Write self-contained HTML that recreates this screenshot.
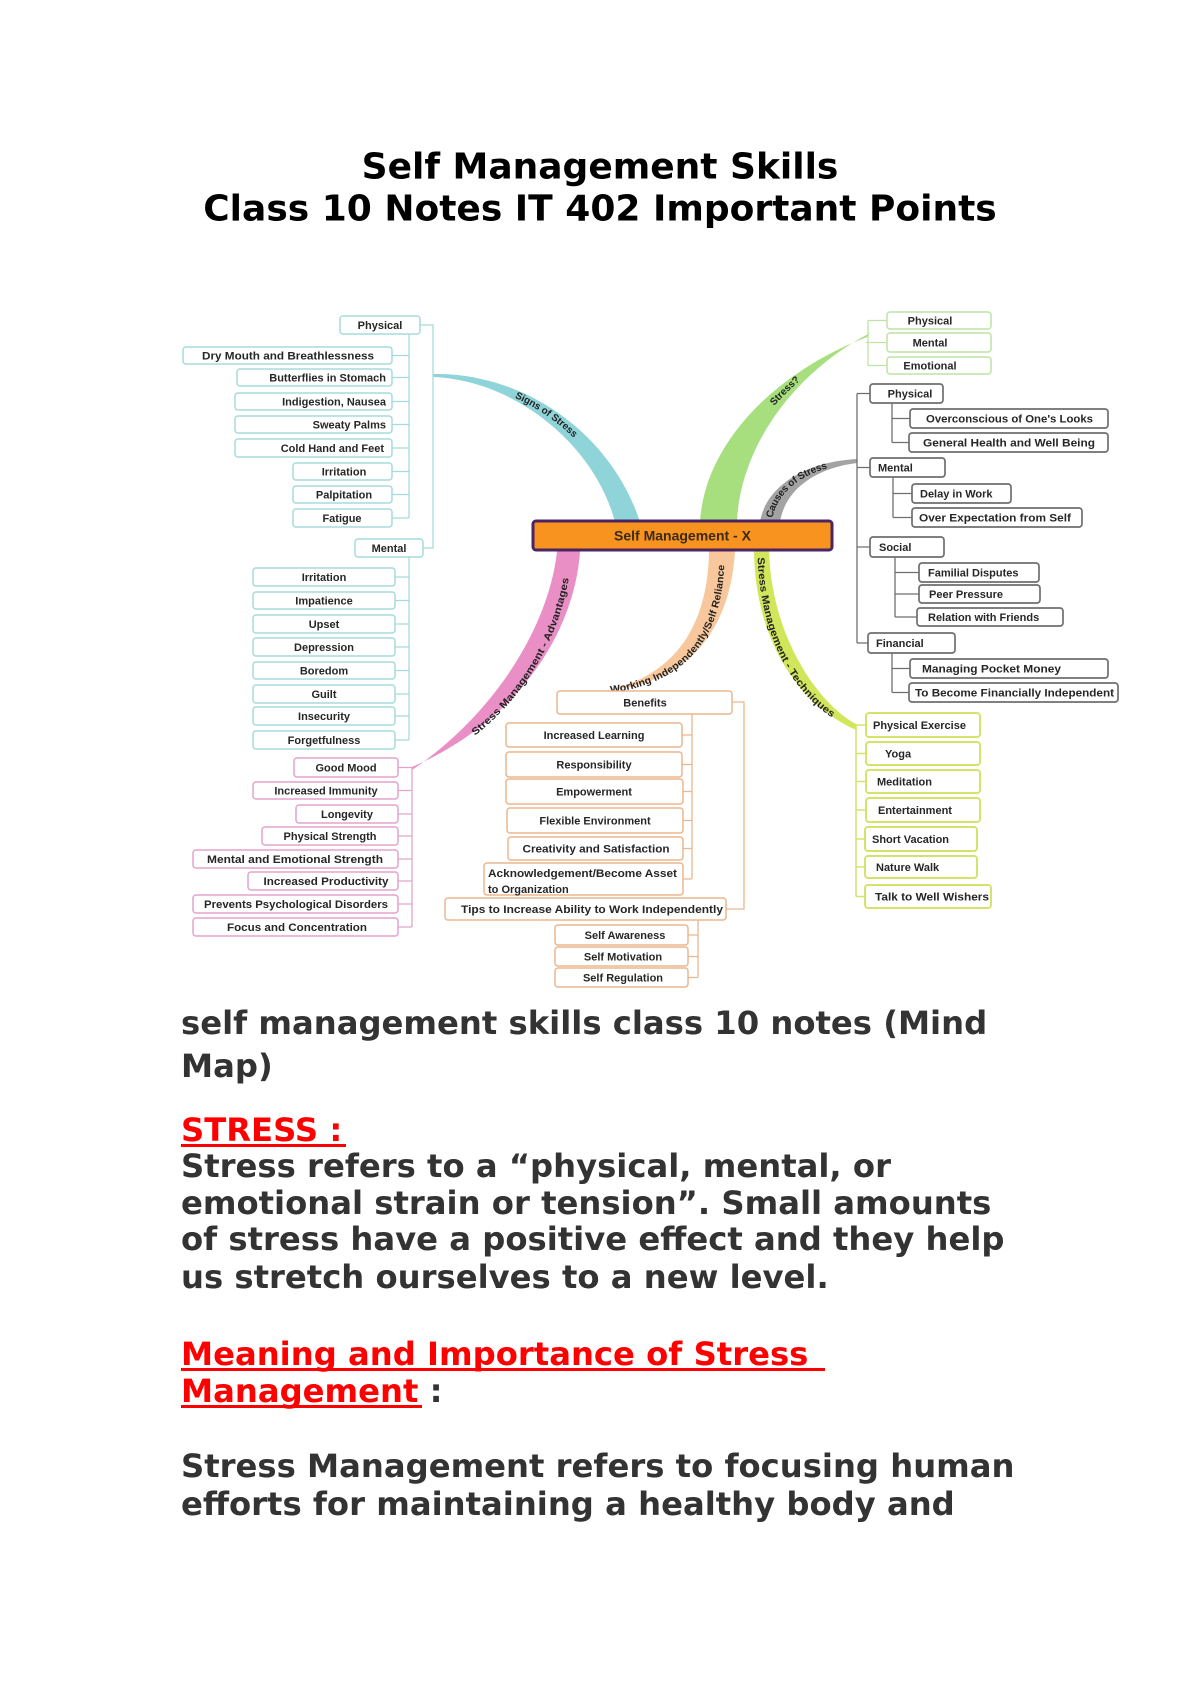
<!DOCTYPE html>
<html>
<head>
<meta charset="utf-8">
<style>
html,body{margin:0;padding:0;background:#fff;}
svg{display:block;}
.t{font-family:"DejaVu Sans","Liberation Sans",sans-serif;font-weight:bold;}
.m{font-family:"Liberation Sans",Arial,sans-serif;font-weight:bold;font-size:11px;fill:#262626;}
.lb{font-family:"Liberation Sans",Arial,sans-serif;font-weight:bold;font-size:10px;fill:#222;}
.c{text-anchor:middle;}
.e{text-anchor:end;}
.bc{fill:#fff;stroke:#a6dbdb;stroke-width:1.5;}
.bp{fill:#fff;stroke:#e3a4cb;stroke-width:1.5;}
.bo{fill:#fff;stroke:#ebb68e;stroke-width:1.5;}
.bg{fill:#fff;stroke:#bfe3a3;stroke-width:1.5;}
.bk{fill:#fff;stroke:#6f6f6f;stroke-width:1.7;}
.by{fill:#fff;stroke:#d5e36d;stroke-width:2;}
.lc{fill:none;stroke:#a6dbdb;stroke-width:1.3;}
.lp{fill:none;stroke:#e3a4cb;stroke-width:1.3;}
.lo{fill:none;stroke:#ebb68e;stroke-width:1.3;}
.lg{fill:none;stroke:#bfe3a3;stroke-width:1.3;}
.lk{fill:none;stroke:#6f6f6f;stroke-width:1.3;}
.ly{fill:none;stroke:#d5e36d;stroke-width:1.6;}
</style>
</head>
<body>
<svg width="1200" height="1696" viewBox="0 0 1200 1696" xmlns="http://www.w3.org/2000/svg">
<defs>
<path id="p1" d="M440,377 C520,378 605,436 628,522"/>
<path id="p2" d="M718,522 C722,445 790,365 867,337"/>
<path id="p3" d="M769,522 C772,490 805,463 857,461"/>
<path id="p4" d="M412,769 C515,725 565,630 568,551"/>
<path id="p5" d="M606,690 C690,680 722,630 721,551"/>
<path id="p6" d="M761,553 C763,635 795,700 856,727"/>
</defs>

<!-- Title -->
<text class="t c" x="600" y="178.5" font-size="36" fill="#000">Self Management Skills</text>
<text class="t c" x="600" y="220.5" font-size="36" fill="#000">Class 10 Notes IT 402 Important Points</text>

<!-- Ribbons -->
<path d="M433,374 C520,372 610,430 640,522 L615,522 C595,445 515,380 433,377 Z" fill="#8fd4d8"/>
<path d="M700,522 C705,440 780,370 867,337 L870,333 C790,375 740,450 737,522 Z" fill="#a7df7e"/>
<path d="M760,522 C765,490 800,462 857,459 L857,463 C815,468 785,490 780,522 Z" fill="#a3a3a3"/>
<path d="M557,551 C550,620 500,710 412,770 L412,767 C520,720 575,630 580,551 Z" fill="#e98fc6"/>
<path d="M709,551 C708,620 680,675 605,691 L612,690 C690,680 730,630 735,551 Z" fill="#f8c79c"/>
<path d="M754,551 C755,630 790,700 856,730 L856,724 C820,705 772,640 769,551 Z" fill="#d1e65a"/>

<!-- Ribbon labels -->
<text class="lb" dy="3.5"><textPath href="#p1" startOffset="31%">Signs of Stress</textPath></text>
<text class="lb" dy="3.5"><textPath href="#p2" startOffset="53%">Stress?</textPath></text>
<text class="lb" dy="3"><textPath href="#p3" startOffset="4%">Causes of Stress</textPath></text>
<text class="lb" dy="3.5"><textPath href="#p4" startOffset="25%" textLength="185" lengthAdjust="spacingAndGlyphs">Stress Management - Advantages</textPath></text>
<text class="lb" dy="3.5"><textPath href="#p5" startOffset="2%" textLength="185" lengthAdjust="spacingAndGlyphs">Working Independently/Self Reliance</textPath></text>
<text class="lb" dy="3.5"><textPath href="#p6" startOffset="2%" textLength="180" lengthAdjust="spacingAndGlyphs">Stress Management - Techniques</textPath></text>

<!-- Cyan lines -->
<path class="lc" d="M420,325 H433 V548 H423 M409,334 V518 M392,355.5 H409 M392,377.5 H409 M392,401.5 H409 M392,424.5 H409 M392,448 H409 M392,471.5 H409 M392,494.5 H409 M392,518 H409 M409,557 V740 M395,577 H409 M395,600.5 H409 M395,624 H409 M395,647 H409 M395,670.5 H409 M395,694 H409 M395,716 H409 M395,740 H409"/>
<!-- Cyan boxes -->
<rect class="bc" x="340" y="316" width="80" height="18" rx="3"/><text class="m c" x="380" y="329">Physical</text>
<rect class="bc" x="183" y="347" width="209" height="17" rx="3"/><text class="m c" x="288" y="359.5" textLength="172" lengthAdjust="spacingAndGlyphs">Dry Mouth and Breathlessness</text>
<rect class="bc" x="237" y="369" width="155" height="17" rx="3"/><text class="m e" x="386" y="381.5">Butterflies in Stomach</text>
<rect class="bc" x="235" y="393" width="157" height="17" rx="3"/><text class="m e" x="386" y="405.5">Indigestion, Nausea</text>
<rect class="bc" x="235" y="416" width="157" height="17" rx="3"/><text class="m e" x="386" y="428.5">Sweaty Palms</text>
<rect class="bc" x="235" y="439" width="157" height="18" rx="3"/><text class="m e" x="384" y="452">Cold Hand and Feet</text>
<rect class="bc" x="293" y="463" width="99" height="17" rx="3"/><text class="m c" x="344" y="475.5">Irritation</text>
<rect class="bc" x="293" y="486" width="99" height="17" rx="3"/><text class="m c" x="344" y="498.5">Palpitation</text>
<rect class="bc" x="293" y="509" width="99" height="18" rx="3"/><text class="m c" x="342" y="522">Fatigue</text>
<rect class="bc" x="355" y="539" width="68" height="18" rx="3"/><text class="m c" x="389" y="552">Mental</text>
<rect class="bc" x="253" y="568" width="142" height="18" rx="3"/><text class="m c" x="324" y="581">Irritation</text>
<rect class="bc" x="253" y="592" width="142" height="17" rx="3"/><text class="m c" x="324" y="604.5">Impatience</text>
<rect class="bc" x="253" y="615" width="142" height="18" rx="3"/><text class="m c" x="324" y="628">Upset</text>
<rect class="bc" x="253" y="638" width="142" height="18" rx="3"/><text class="m c" x="324" y="651">Depression</text>
<rect class="bc" x="253" y="662" width="142" height="17" rx="3"/><text class="m c" x="324" y="674.5">Boredom</text>
<rect class="bc" x="253" y="685" width="142" height="18" rx="3"/><text class="m c" x="324" y="698">Guilt</text>
<rect class="bc" x="253" y="707" width="142" height="18" rx="3"/><text class="m c" x="324" y="720">Insecurity</text>
<rect class="bc" x="253" y="731" width="142" height="18" rx="3"/><text class="m c" x="324" y="744">Forgetfulness</text>

<!-- Pink -->
<path class="lp" d="M412,767.5 V927 M398,767.5 H412 M398,790.5 H412 M398,814 H412 M398,836 H412 M398,859 H412 M398,881 H412 M398,904 H412 M398,927 H412"/>
<rect class="bp" x="294" y="758" width="104" height="19" rx="3"/><text class="m c" x="346" y="771.5">Good Mood</text>
<rect class="bp" x="253" y="782" width="145" height="17" rx="3"/><text class="m c" x="326" y="794.5">Increased Immunity</text>
<rect class="bp" x="296" y="805" width="102" height="18" rx="3"/><text class="m c" x="347" y="818">Longevity</text>
<rect class="bp" x="262" y="827" width="136" height="18" rx="3"/><text class="m c" x="330" y="840">Physical Strength</text>
<rect class="bp" x="193" y="850" width="205" height="18" rx="3"/><text class="m c" x="295" y="863" textLength="176" lengthAdjust="spacingAndGlyphs">Mental and Emotional Strength</text>
<rect class="bp" x="248" y="872" width="150" height="18" rx="3"/><text class="m c" x="326" y="885" textLength="125" lengthAdjust="spacingAndGlyphs">Increased Productivity</text>
<rect class="bp" x="193" y="895" width="205" height="18" rx="3"/><text class="m c" x="296" y="908" textLength="184" lengthAdjust="spacingAndGlyphs">Prevents Psychological Disorders</text>
<rect class="bp" x="193" y="918" width="205" height="18" rx="3"/><text class="m c" x="297" y="931" textLength="140" lengthAdjust="spacingAndGlyphs">Focus and Concentration</text>

<!-- Peach -->
<path class="lo" d="M692,714 V879 M682,735 H692 M682,764.5 H692 M683,791.5 H692 M683,820.5 H692 M683,848.5 H692 M683,879 H692 M732,702 H744 V909 H726 M698,920 V977.5 M688,935 H698 M688,956.5 H698 M688,977.5 H698"/>
<rect class="bo" x="557" y="691" width="175" height="23" rx="3"/><text class="m c" x="645" y="706.5">Benefits</text>
<rect class="bo" x="506" y="723" width="176" height="24" rx="3"/><text class="m c" x="594" y="739">Increased Learning</text>
<rect class="bo" x="506" y="752" width="176" height="25" rx="3"/><text class="m c" x="594" y="768.5">Responsibility</text>
<rect class="bo" x="506" y="779" width="177" height="25" rx="3"/><text class="m c" x="594" y="795.5">Empowerment</text>
<rect class="bo" x="507" y="808" width="176" height="25" rx="3"/><text class="m c" x="595" y="824.5">Flexible Environment</text>
<rect class="bo" x="508" y="837" width="175" height="23" rx="3"/><text class="m c" x="596" y="852.5" textLength="147" lengthAdjust="spacingAndGlyphs">Creativity and Satisfaction</text>
<rect class="bo" x="484" y="863" width="199" height="32" rx="3"/><text class="m" x="488" y="877" textLength="189" lengthAdjust="spacingAndGlyphs">Acknowledgement/Become Asset</text><text class="m" x="488" y="893">to Organization</text>
<rect class="bo" x="445" y="898" width="281" height="22" rx="3"/><text class="m c" x="592" y="913" textLength="262" lengthAdjust="spacingAndGlyphs">Tips to Increase Ability to Work Independently</text>
<rect class="bo" x="555" y="925" width="133" height="20" rx="3"/><text class="m c" x="625" y="939">Self Awareness</text>
<rect class="bo" x="555" y="947" width="133" height="19" rx="3"/><text class="m c" x="623" y="960.5">Self Motivation</text>
<rect class="bo" x="555" y="968" width="133" height="19" rx="3"/><text class="m c" x="623" y="981.5">Self Regulation</text>

<!-- Green -->
<path class="lg" d="M868,320.5 V365.5 M868,320.5 H887 M866,342.5 H887 M868,365.5 H887"/>
<rect class="bg" x="887" y="312" width="104" height="17" rx="3"/><text class="m c" x="930" y="324.5">Physical</text>
<rect class="bg" x="887" y="333" width="104" height="19" rx="3"/><text class="m c" x="930" y="346.5">Mental</text>
<rect class="bg" x="887" y="357" width="104" height="17" rx="3"/><text class="m c" x="930" y="369.5">Emotional</text>

<!-- Gray -->
<path class="lk" d="M857,393.5 V643 M857,393.5 H870 M857,467.5 H870 M857,547 H870 M857,643 H868 M892,403 V442.5 M892,418.5 H910 M892,442.5 H909 M893,477 V517.5 M893,493.5 H912 M893,517.5 H912 M895,557 V617 M895,572.5 H919 M895,594 H919 M895,617 H917 M892,653 V692.5 M892,668.5 H910 M892,692.5 H909"/>
<rect class="bk" x="870" y="384" width="73" height="19" rx="3"/><text class="m c" x="910" y="397.5">Physical</text>
<rect class="bk" x="910" y="409" width="198" height="19" rx="3"/><text class="m c" x="1009.5" y="422.5" textLength="167" lengthAdjust="spacingAndGlyphs">Overconscious of One's Looks</text>
<rect class="bk" x="909" y="433" width="199" height="19" rx="3"/><text class="m c" x="1009" y="446.5" textLength="172" lengthAdjust="spacingAndGlyphs">General Health and Well Being</text>
<rect class="bk" x="870" y="458" width="75" height="19" rx="3"/><text class="m" x="878" y="471.5">Mental</text>
<rect class="bk" x="912" y="484" width="99" height="19" rx="3"/><text class="m" x="920" y="497.5">Delay in Work</text>
<rect class="bk" x="912" y="508" width="170" height="19" rx="3"/><text class="m" x="919" y="521.5" textLength="152" lengthAdjust="spacingAndGlyphs">Over Expectation from Self</text>
<rect class="bk" x="870" y="537" width="74" height="20" rx="3"/><text class="m" x="879" y="551">Social</text>
<rect class="bk" x="919" y="563" width="120" height="19" rx="3"/><text class="m" x="928" y="576.5">Familial Disputes</text>
<rect class="bk" x="919" y="585" width="121" height="18" rx="3"/><text class="m" x="929" y="598">Peer Pressure</text>
<rect class="bk" x="917" y="608" width="146" height="18" rx="3"/><text class="m" x="928" y="621">Relation with Friends</text>
<rect class="bk" x="868" y="633" width="87" height="20" rx="3"/><text class="m" x="876" y="647">Financial</text>
<rect class="bk" x="910" y="659" width="198" height="19" rx="3"/><text class="m" x="922" y="672.5" textLength="139" lengthAdjust="spacingAndGlyphs">Managing Pocket Money</text>
<rect class="bk" x="909" y="683" width="209" height="19" rx="3"/><text class="m" x="915" y="696.5" textLength="199" lengthAdjust="spacingAndGlyphs">To Become Financially Independent</text>

<!-- Yellow-green -->
<path class="ly" d="M856,725 V896.5 M856,725 H866 M856,753.5 H866 M856,781.5 H866 M856,810 H866 M856,839 H865 M856,867 H865 M856,896.5 H865"/>
<rect class="by" x="866" y="713" width="114" height="24" rx="3"/><text class="m" x="873" y="729">Physical Exercise</text>
<rect class="by" x="866" y="742" width="114" height="23" rx="3"/><text class="m" x="885" y="757.5">Yoga</text>
<rect class="by" x="866" y="770" width="114" height="23" rx="3"/><text class="m" x="877" y="785.5">Meditation</text>
<rect class="by" x="866" y="798" width="114" height="24" rx="3"/><text class="m" x="878" y="814">Entertainment</text>
<rect class="by" x="865" y="827" width="112" height="24" rx="3"/><text class="m" x="872" y="843">Short Vacation</text>
<rect class="by" x="865" y="856" width="112" height="22" rx="3"/><text class="m" x="876" y="871">Nature Walk</text>
<rect class="by" x="865" y="885" width="126" height="23" rx="3"/><text class="m" x="875" y="900.5" textLength="114" lengthAdjust="spacingAndGlyphs">Talk to Well Wishers</text>

<!-- Center node -->
<rect x="533" y="521" width="299" height="29" rx="3" fill="#f7931e" stroke="#4b2463" stroke-width="3"/>
<text x="682.5" y="540.5" text-anchor="middle" font-family="Liberation Sans, Arial, sans-serif" font-weight="bold" font-size="14" fill="#3b2a14">Self Management - X</text>

<!-- Body text -->
<g class="t" font-size="32.25" fill="#333">
<text x="181" y="1034">self management skills class 10 notes (Mind</text>
<text x="181" y="1077">Map)</text>
<text x="181" y="1141" fill="#ff0000">STRESS :</text>
<text x="181" y="1177">Stress refers to a “physical, mental, or</text>
<text x="181" y="1214">emotional strain or tension”. Small amounts</text>
<text x="181" y="1250">of stress have a positive effect and they help</text>
<text x="181" y="1288">us stretch ourselves to a new level.</text>
<text x="181" y="1365" fill="#ff0000">Meaning and Importance of Stress </text>
<text x="181" y="1402"><tspan fill="#ff0000">Management</tspan><tspan fill="#333"> :</tspan></text>
<text x="181" y="1477">Stress Management refers to focusing human</text>
<text x="181" y="1515">efforts for maintaining a healthy body and</text>
</g>
<rect x="181" y="1144" width="165" height="3" fill="#ff0000"/>
<rect x="181" y="1368" width="644" height="3" fill="#ff0000"/>
<rect x="181" y="1405" width="241" height="3" fill="#ff0000"/>
</svg>
</body>
</html>
